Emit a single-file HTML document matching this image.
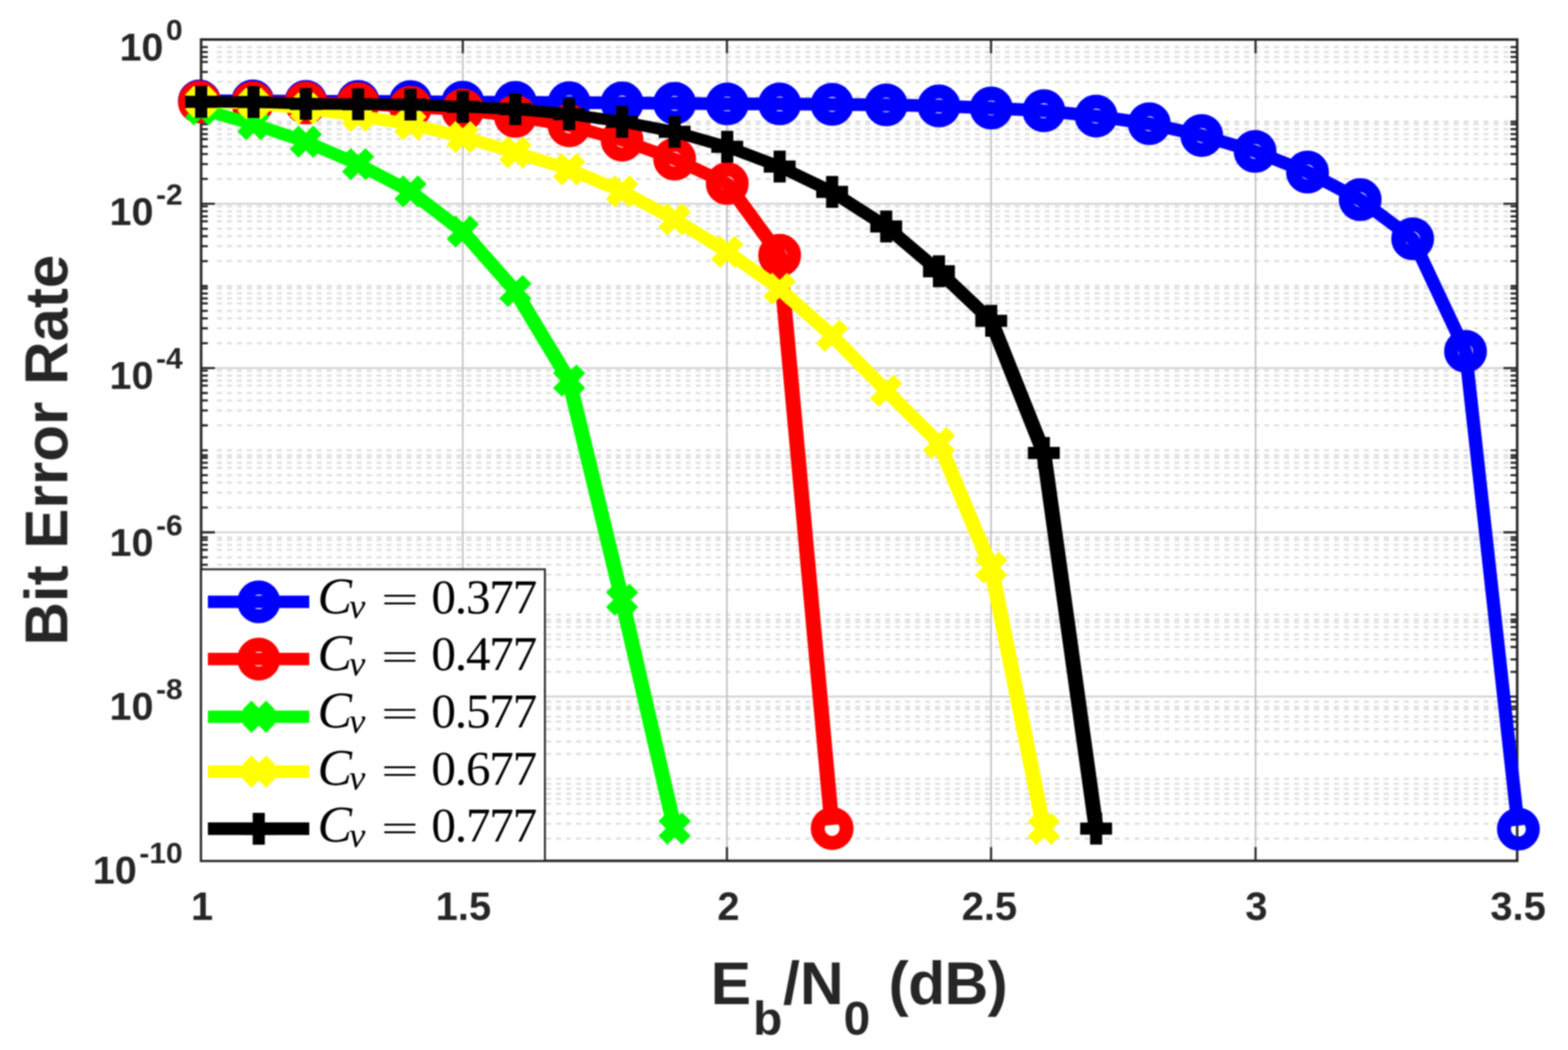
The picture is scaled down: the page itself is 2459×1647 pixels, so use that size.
<!DOCTYPE html>
<html lang="en"><head><meta charset="utf-8"><title>Bit Error Rate vs Eb/N0</title>
<style>html,body{margin:0;padding:0;background:#fff}body{width:2459px;height:1647px;overflow:hidden}svg{display:block}.ax{font-family:"Liberation Sans",Arial,Helvetica,sans-serif;font-weight:bold;fill:#262626}.lg{font-family:"Liberation Serif","Times New Roman",serif;fill:#000}</style></head><body>
<svg width="2459" height="1647" viewBox="0 0 2459 1647" role="img" aria-label="Bit Error Rate versus Eb/N0 (dB) for five values of Cv">
<defs><filter id="b" x="0" y="0" width="100%" height="100%" filterUnits="userSpaceOnUse" color-interpolation-filters="sRGB"><feGaussianBlur stdDeviation="1.2"/></filter></defs>
<rect width="2459" height="1647" fill="#fff"/>
<g filter="url(#b)">
<g stroke="#e1e1e1" stroke-width="3.6" stroke-dasharray="7.8 7.84" fill="none">
<path d="M340.3 73.78H2379.3M340.3 81.59H2379.3M340.3 89.39H2379.3M340.3 97.2H2379.3M340.3 112.82H2379.3M340.3 128.44H2379.3M340.3 151.87H2379.3M340.3 190.91H2379.3M340.3 194.82H2379.3M340.3 202.63H2379.3M340.3 210.43H2379.3M340.3 218.24H2379.3M340.3 229.96H2379.3M340.3 241.67H2379.3M340.3 257.29H2379.3M340.3 280.72H2379.3M340.3 323.67H2379.3M340.3 331.47H2379.3M340.3 339.28H2379.3M340.3 347.09H2379.3M340.3 358.81H2379.3M340.3 370.52H2379.3M340.3 386.14H2379.3M340.3 409.56H2379.3M340.3 448.61H2379.3M340.3 452.51H2379.3M340.3 460.32H2379.3M340.3 468.13H2379.3M340.3 475.94H2379.3M340.3 487.65H2379.3M340.3 499.37H2379.3M340.3 514.99H2379.3M340.3 538.41H2379.3M340.3 581.36H2379.3M340.3 589.17H2379.3M340.3 596.98H2379.3M340.3 604.79H2379.3M340.3 616.5H2379.3M340.3 628.22H2379.3M340.3 643.83H2379.3M340.3 667.26H2379.3M340.3 706.31H2379.3M340.3 714.12H2379.3M340.3 718.02H2379.3M340.3 725.83H2379.3M340.3 733.64H2379.3M340.3 745.35H2379.3M340.3 757.06H2379.3M340.3 772.68H2379.3M340.3 796.11H2379.3M340.3 842.96H2379.3M340.3 846.87H2379.3M340.3 854.68H2379.3M340.3 862.49H2379.3M340.3 874.2H2379.3M340.3 885.91H2379.3M340.3 901.53H2379.3M340.3 924.96H2379.3M340.3 964H2379.3M340.3 971.81H2379.3M340.3 975.72H2379.3M340.3 983.53H2379.3M340.3 995.24H2379.3M340.3 1003.05H2379.3M340.3 1014.76H2379.3M340.3 1034.28H2379.3M340.3 1053.81H2379.3M340.3 1100.66H2379.3M340.3 1108.47H2379.3M340.3 1112.37H2379.3M340.3 1124.09H2379.3M340.3 1131.9H2379.3M340.3 1143.61H2379.3M340.3 1163.13H2379.3M340.3 1182.65H2379.3M340.3 1221.7H2379.3M340.3 1229.51H2379.3M340.3 1237.32H2379.3M340.3 1245.13H2379.3M340.3 1252.94H2379.3M340.3 1260.75H2379.3M340.3 1276.36H2379.3M340.3 1291.98H2379.3M340.3 1315.41H2379.3"/>
</g>
<path d="M315.4 319.66H2379.3M315.4 577.32H2379.3M315.4 834.98H2379.3M315.4 1092.64H2379.3" stroke="#d6d6d6" stroke-width="3.2" fill="none"/>
<path d="M725.8 62V1350.3M1140 62V1350.3M1554.2 62V1350.3M1969 62V1350.3" stroke="#bcbcbc" stroke-width="2.3" fill="none"/>
<path d="M725.8 1350.3v-21.5M725.8 62v21.5M1140 1350.3v-21.5M1140 62v21.5M1554.2 1350.3v-21.5M1554.2 62v21.5M1969 1350.3v-21.5M1969 62v21.5M315.4 319.66h21.5M2379.3 319.66h-21.5M315.4 577.32h21.5M2379.3 577.32h-21.5M315.4 834.98h21.5M2379.3 834.98h-21.5M315.4 1092.64h21.5M2379.3 1092.64h-21.5M315.4 151.87h10.5M2379.3 151.87h-10.5M315.4 128.44h10.5M2379.3 128.44h-10.5M315.4 112.82h10.5M2379.3 112.82h-10.5M315.4 97.2h10.5M2379.3 97.2h-10.5M315.4 89.39h10.5M2379.3 89.39h-10.5M315.4 81.59h10.5M2379.3 81.59h-10.5M315.4 73.78h10.5M2379.3 73.78h-10.5M315.4 190.91h10.5M2379.3 190.91h-10.5M315.4 280.72h10.5M2379.3 280.72h-10.5M315.4 257.29h10.5M2379.3 257.29h-10.5M315.4 241.67h10.5M2379.3 241.67h-10.5M315.4 229.96h10.5M2379.3 229.96h-10.5M315.4 218.24h10.5M2379.3 218.24h-10.5M315.4 210.43h10.5M2379.3 210.43h-10.5M315.4 202.63h10.5M2379.3 202.63h-10.5M315.4 194.82h10.5M2379.3 194.82h-10.5M315.4 409.56h10.5M2379.3 409.56h-10.5M315.4 386.14h10.5M2379.3 386.14h-10.5M315.4 370.52h10.5M2379.3 370.52h-10.5M315.4 358.81h10.5M2379.3 358.81h-10.5M315.4 347.09h10.5M2379.3 347.09h-10.5M315.4 339.28h10.5M2379.3 339.28h-10.5M315.4 331.47h10.5M2379.3 331.47h-10.5M315.4 323.67h10.5M2379.3 323.67h-10.5M315.4 448.61h10.5M2379.3 448.61h-10.5M315.4 538.41h10.5M2379.3 538.41h-10.5M315.4 514.99h10.5M2379.3 514.99h-10.5M315.4 499.37h10.5M2379.3 499.37h-10.5M315.4 487.65h10.5M2379.3 487.65h-10.5M315.4 475.94h10.5M2379.3 475.94h-10.5M315.4 468.13h10.5M2379.3 468.13h-10.5M315.4 460.32h10.5M2379.3 460.32h-10.5M315.4 452.51h10.5M2379.3 452.51h-10.5M315.4 667.26h10.5M2379.3 667.26h-10.5M315.4 643.83h10.5M2379.3 643.83h-10.5M315.4 628.22h10.5M2379.3 628.22h-10.5M315.4 616.5h10.5M2379.3 616.5h-10.5M315.4 604.79h10.5M2379.3 604.79h-10.5M315.4 596.98h10.5M2379.3 596.98h-10.5M315.4 589.17h10.5M2379.3 589.17h-10.5M315.4 581.36h10.5M2379.3 581.36h-10.5M315.4 706.31h10.5M2379.3 706.31h-10.5M315.4 796.11h10.5M2379.3 796.11h-10.5M315.4 772.68h10.5M2379.3 772.68h-10.5M315.4 757.06h10.5M2379.3 757.06h-10.5M315.4 745.35h10.5M2379.3 745.35h-10.5M315.4 733.64h10.5M2379.3 733.64h-10.5M315.4 725.83h10.5M2379.3 725.83h-10.5M315.4 718.02h10.5M2379.3 718.02h-10.5M315.4 714.12h10.5M2379.3 714.12h-10.5M315.4 924.96h10.5M2379.3 924.96h-10.5M315.4 901.53h10.5M2379.3 901.53h-10.5M315.4 885.91h10.5M2379.3 885.91h-10.5M315.4 874.2h10.5M2379.3 874.2h-10.5M315.4 862.49h10.5M2379.3 862.49h-10.5M315.4 854.68h10.5M2379.3 854.68h-10.5M315.4 846.87h10.5M2379.3 846.87h-10.5M315.4 842.96h10.5M2379.3 842.96h-10.5M315.4 964h10.5M2379.3 964h-10.5M315.4 1053.81h10.5M2379.3 1053.81h-10.5M315.4 1034.28h10.5M2379.3 1034.28h-10.5M315.4 1014.76h10.5M2379.3 1014.76h-10.5M315.4 1003.05h10.5M2379.3 1003.05h-10.5M315.4 995.24h10.5M2379.3 995.24h-10.5M315.4 983.53h10.5M2379.3 983.53h-10.5M315.4 975.72h10.5M2379.3 975.72h-10.5M315.4 971.81h10.5M2379.3 971.81h-10.5M315.4 1182.65h10.5M2379.3 1182.65h-10.5M315.4 1163.13h10.5M2379.3 1163.13h-10.5M315.4 1143.61h10.5M2379.3 1143.61h-10.5M315.4 1131.9h10.5M2379.3 1131.9h-10.5M315.4 1124.09h10.5M2379.3 1124.09h-10.5M315.4 1112.37h10.5M2379.3 1112.37h-10.5M315.4 1108.47h10.5M2379.3 1108.47h-10.5M315.4 1100.66h10.5M2379.3 1100.66h-10.5M315.4 1221.7h10.5M2379.3 1221.7h-10.5M315.4 1315.41h10.5M2379.3 1315.41h-10.5M315.4 1291.98h10.5M2379.3 1291.98h-10.5M315.4 1276.36h10.5M2379.3 1276.36h-10.5M315.4 1260.75h10.5M2379.3 1260.75h-10.5M315.4 1252.94h10.5M2379.3 1252.94h-10.5M315.4 1245.13h10.5M2379.3 1245.13h-10.5M315.4 1237.32h10.5M2379.3 1237.32h-10.5M315.4 1229.51h10.5M2379.3 1229.51h-10.5" stroke="#262626" stroke-width="3.3" fill="none"/>
<rect x="315.4" y="62" width="2063.9" height="1288.3" fill="none" stroke="#262626" stroke-width="4"/>
<g fill="none" stroke="#0000ff">
<path d="M315.5 158.3L397.6 158.3" stroke-width="20"/>
<path d="M397.6 158.3L479.7 159" stroke-width="20"/>
<path d="M479.7 159L561.7 159" stroke-width="20"/>
<path d="M561.7 159L643.8 159.3" stroke-width="20"/>
<path d="M643.8 159.3L725.8 160.3" stroke-width="20"/>
<path d="M725.8 160.3L808.2 160.5" stroke-width="20"/>
<path d="M808.2 160.5L892.6 161" stroke-width="20"/>
<path d="M892.6 161L975.6 161.4" stroke-width="20"/>
<path d="M975.6 161.4L1058 162" stroke-width="20"/>
<path d="M1058 162L1140.5 163" stroke-width="20"/>
<path d="M1140.5 163L1222.7 163" stroke-width="20"/>
<path d="M1222.7 163L1305 163.7" stroke-width="20"/>
<path d="M1305 163.7L1389.8 164.5" stroke-width="20"/>
<path d="M1389.8 164.5L1472.5 166.2" stroke-width="20"/>
<path d="M1472.5 166.2L1554.5 169.4" stroke-width="20"/>
<path d="M1554.5 169.4L1637 173.7" stroke-width="20"/>
<path d="M1637 173.7L1719 182.1" stroke-width="20.01"/>
<path d="M1719 182.1L1802.4 194" stroke-width="20.02"/>
<path d="M1802.4 194L1884.6 212.6" stroke-width="20.04"/>
<path d="M1884.6 212.6L1968.3 237.5" stroke-width="20.07"/>
<path d="M1968.3 237.5L2050.5 269.9" stroke-width="20.11"/>
<path d="M2050.5 269.9L2133.1 313.2" stroke-width="20.17"/>
<path d="M2133.1 313.2L2215.4 374.6" stroke-width="20.29"/>
<path d="M2215.4 374.6L2298.3 551" stroke-width="20.66"/>
<path d="M2298.3 551L2380.6 1295.03" stroke-width="20.79"/>
<circle cx="397.6" cy="158.3" r="10" fill="#0000ff" stroke="none"/>
<circle cx="479.7" cy="159" r="10" fill="#0000ff" stroke="none"/>
<circle cx="561.7" cy="159" r="10" fill="#0000ff" stroke="none"/>
<circle cx="643.8" cy="159.3" r="10" fill="#0000ff" stroke="none"/>
<circle cx="725.8" cy="160.3" r="10" fill="#0000ff" stroke="none"/>
<circle cx="808.2" cy="160.5" r="10" fill="#0000ff" stroke="none"/>
<circle cx="892.6" cy="161" r="10" fill="#0000ff" stroke="none"/>
<circle cx="975.6" cy="161.4" r="10" fill="#0000ff" stroke="none"/>
<circle cx="1058" cy="162" r="10" fill="#0000ff" stroke="none"/>
<circle cx="1140.5" cy="163" r="10" fill="#0000ff" stroke="none"/>
<circle cx="1222.7" cy="163" r="10" fill="#0000ff" stroke="none"/>
<circle cx="1305" cy="163.7" r="10" fill="#0000ff" stroke="none"/>
<circle cx="1389.8" cy="164.5" r="10" fill="#0000ff" stroke="none"/>
<circle cx="1472.5" cy="166.2" r="10" fill="#0000ff" stroke="none"/>
<circle cx="1554.5" cy="169.4" r="10" fill="#0000ff" stroke="none"/>
<circle cx="1637" cy="173.7" r="10" fill="#0000ff" stroke="none"/>
<circle cx="1719" cy="182.1" r="10" fill="#0000ff" stroke="none"/>
<circle cx="1802.4" cy="194" r="10.01" fill="#0000ff" stroke="none"/>
<circle cx="1884.6" cy="212.6" r="10.02" fill="#0000ff" stroke="none"/>
<circle cx="1968.3" cy="237.5" r="10.03" fill="#0000ff" stroke="none"/>
<circle cx="2050.5" cy="269.9" r="10.05" fill="#0000ff" stroke="none"/>
<circle cx="2133.1" cy="313.2" r="10.09" fill="#0000ff" stroke="none"/>
<circle cx="2215.4" cy="374.6" r="10.14" fill="#0000ff" stroke="none"/>
<circle cx="2298.3" cy="551" r="10.33" fill="#0000ff" stroke="none"/>
<circle cx="312.7" cy="158.3" r="22.6" fill="none" stroke="#0000ff" stroke-width="22"/>
<circle cx="396.3" cy="158.3" r="22.6" fill="none" stroke="#0000ff" stroke-width="22"/>
<circle cx="479.7" cy="159" r="22.6" fill="none" stroke="#0000ff" stroke-width="22"/>
<circle cx="561.7" cy="159" r="22.6" fill="none" stroke="#0000ff" stroke-width="22"/>
<circle cx="643.8" cy="159.3" r="22.6" fill="none" stroke="#0000ff" stroke-width="22"/>
<circle cx="725.8" cy="160.3" r="22.6" fill="none" stroke="#0000ff" stroke-width="22"/>
<circle cx="808.2" cy="160.5" r="22.6" fill="none" stroke="#0000ff" stroke-width="22"/>
<circle cx="892.6" cy="161" r="22.6" fill="none" stroke="#0000ff" stroke-width="22"/>
<circle cx="975.6" cy="161.4" r="22.6" fill="none" stroke="#0000ff" stroke-width="22"/>
<circle cx="1058" cy="162" r="22.6" fill="none" stroke="#0000ff" stroke-width="22"/>
<circle cx="1140.5" cy="163" r="22.6" fill="none" stroke="#0000ff" stroke-width="22"/>
<circle cx="1222.7" cy="163" r="22.6" fill="none" stroke="#0000ff" stroke-width="22"/>
<circle cx="1305" cy="163.7" r="22.6" fill="none" stroke="#0000ff" stroke-width="22"/>
<circle cx="1389.8" cy="164.5" r="22.6" fill="none" stroke="#0000ff" stroke-width="22"/>
<circle cx="1472.5" cy="166.2" r="22.6" fill="none" stroke="#0000ff" stroke-width="22"/>
<circle cx="1554.5" cy="169.4" r="22.6" fill="none" stroke="#0000ff" stroke-width="22"/>
<circle cx="1637" cy="173.7" r="22.6" fill="none" stroke="#0000ff" stroke-width="22"/>
<circle cx="1719" cy="182.1" r="22.6" fill="none" stroke="#0000ff" stroke-width="22"/>
<circle cx="1802.4" cy="194" r="22.6" fill="none" stroke="#0000ff" stroke-width="22"/>
<circle cx="1884.6" cy="212.6" r="22.6" fill="none" stroke="#0000ff" stroke-width="22"/>
<circle cx="1968.3" cy="237.5" r="22.6" fill="none" stroke="#0000ff" stroke-width="22"/>
<circle cx="2050.5" cy="269.9" r="22.6" fill="none" stroke="#0000ff" stroke-width="22"/>
<circle cx="2133.1" cy="313.2" r="22.6" fill="none" stroke="#0000ff" stroke-width="22"/>
<circle cx="2215.4" cy="374.6" r="22.6" fill="none" stroke="#0000ff" stroke-width="22"/>
<circle cx="2298.3" cy="551" r="22.6" fill="none" stroke="#0000ff" stroke-width="22"/>
<circle cx="2381.2" cy="1300.5" r="22.6" fill="none" stroke="#0000ff" stroke-width="22"/>
</g>
<g fill="none" stroke="#ff0000">
<path d="M315.5 160L397.6 161" stroke-width="19"/>
<path d="M397.6 161L479.7 161.4" stroke-width="19"/>
<path d="M479.7 161.4L561.7 162.6" stroke-width="19"/>
<path d="M561.7 162.6L643.8 168" stroke-width="19.02"/>
<path d="M643.8 168L725.8 172.5" stroke-width="19.01"/>
<path d="M725.8 172.5L808.2 182.5" stroke-width="19.07"/>
<path d="M808.2 182.5L892.6 197.2" stroke-width="19.13"/>
<path d="M892.6 197.2L975.6 219.8" stroke-width="19.31"/>
<path d="M975.6 219.8L1058 249.6" stroke-width="19.52"/>
<path d="M1058 249.6L1140.5 288" stroke-width="19.8"/>
<path d="M1140.5 288L1222.7 400.4" stroke-width="21.93"/>
<path d="M1222.7 400.4L1304.5 1294.12" stroke-width="23.46"/>
<circle cx="397.6" cy="161" r="9.5" fill="#ff0000" stroke="none"/>
<circle cx="479.7" cy="161.4" r="9.5" fill="#ff0000" stroke="none"/>
<circle cx="561.7" cy="162.6" r="9.5" fill="#ff0000" stroke="none"/>
<circle cx="643.8" cy="168" r="9.51" fill="#ff0000" stroke="none"/>
<circle cx="725.8" cy="172.5" r="9.51" fill="#ff0000" stroke="none"/>
<circle cx="808.2" cy="182.5" r="9.53" fill="#ff0000" stroke="none"/>
<circle cx="892.6" cy="197.2" r="9.57" fill="#ff0000" stroke="none"/>
<circle cx="975.6" cy="219.8" r="9.66" fill="#ff0000" stroke="none"/>
<circle cx="1058" cy="249.6" r="9.76" fill="#ff0000" stroke="none"/>
<circle cx="1140.5" cy="288" r="9.9" fill="#ff0000" stroke="none"/>
<circle cx="1222.7" cy="400.4" r="10.97" fill="#ff0000" stroke="none"/>
<circle cx="312.7" cy="160" r="22.6" fill="none" stroke="#ff0000" stroke-width="22"/>
<circle cx="396.3" cy="161" r="22.6" fill="none" stroke="#ff0000" stroke-width="22"/>
<circle cx="479.7" cy="161.4" r="22.6" fill="none" stroke="#ff0000" stroke-width="22"/>
<circle cx="561.7" cy="162.6" r="22.6" fill="none" stroke="#ff0000" stroke-width="22"/>
<circle cx="643.8" cy="168" r="22.6" fill="none" stroke="#ff0000" stroke-width="22"/>
<circle cx="725.8" cy="172.5" r="22.6" fill="none" stroke="#ff0000" stroke-width="22"/>
<circle cx="808.2" cy="182.5" r="22.6" fill="none" stroke="#ff0000" stroke-width="22"/>
<circle cx="892.6" cy="197.2" r="22.6" fill="none" stroke="#ff0000" stroke-width="22"/>
<circle cx="975.6" cy="219.8" r="22.6" fill="none" stroke="#ff0000" stroke-width="22"/>
<circle cx="1058" cy="249.6" r="22.6" fill="none" stroke="#ff0000" stroke-width="22"/>
<circle cx="1140.5" cy="288" r="22.6" fill="none" stroke="#ff0000" stroke-width="22"/>
<circle cx="1222.7" cy="400.4" r="22.6" fill="none" stroke="#ff0000" stroke-width="22"/>
<circle cx="1305" cy="1299.6" r="22.6" fill="none" stroke="#ff0000" stroke-width="22"/>
</g>
<g fill="none" stroke="#00ff00">
<path d="M315.5 171.5L397.6 194.7" stroke-width="19.33"/>
<path d="M397.6 194.7L479.7 222.3" stroke-width="19.46"/>
<path d="M479.7 222.3L561.7 257.5" stroke-width="19.7"/>
<path d="M561.7 257.5L643.8 300.3" stroke-width="19.96"/>
<path d="M643.8 300.3L725.8 363.2" stroke-width="20.67"/>
<path d="M725.8 363.2L808.2 456.6" stroke-width="21.53"/>
<path d="M808.2 456.6L892.6 597" stroke-width="22.31"/>
<path d="M892.6 597L975.6 940.8" stroke-width="23.25"/>
<path d="M975.6 940.8L1058 1299.6" stroke-width="23.27"/>
<circle cx="397.6" cy="194.7" r="9.67" fill="#00ff00" stroke="none"/>
<circle cx="479.7" cy="222.3" r="9.73" fill="#00ff00" stroke="none"/>
<circle cx="561.7" cy="257.5" r="9.85" fill="#00ff00" stroke="none"/>
<circle cx="643.8" cy="300.3" r="9.98" fill="#00ff00" stroke="none"/>
<circle cx="725.8" cy="363.2" r="10.33" fill="#00ff00" stroke="none"/>
<circle cx="808.2" cy="456.6" r="10.77" fill="#00ff00" stroke="none"/>
<circle cx="892.6" cy="597" r="11.15" fill="#00ff00" stroke="none"/>
<circle cx="975.6" cy="940.8" r="11.63" fill="#00ff00" stroke="none"/>
<path d="M297.12 153.12L333.88 189.88M297.12 189.88L333.88 153.12" fill="none" stroke="#00ff00" stroke-width="19.5"/>
<path d="M379.22 176.32L415.98 213.08M379.22 213.08L415.98 176.32" fill="none" stroke="#00ff00" stroke-width="19.5"/>
<path d="M461.32 203.92L498.08 240.68M461.32 240.68L498.08 203.92" fill="none" stroke="#00ff00" stroke-width="19.5"/>
<path d="M543.32 239.12L580.08 275.88M543.32 275.88L580.08 239.12" fill="none" stroke="#00ff00" stroke-width="19.5"/>
<path d="M625.42 281.92L662.18 318.68M625.42 318.68L662.18 281.92" fill="none" stroke="#00ff00" stroke-width="19.5"/>
<path d="M707.42 344.82L744.18 381.58M707.42 381.58L744.18 344.82" fill="none" stroke="#00ff00" stroke-width="19.5"/>
<path d="M789.82 438.22L826.58 474.98M789.82 474.98L826.58 438.22" fill="none" stroke="#00ff00" stroke-width="19.5"/>
<path d="M874.22 578.62L910.98 615.38M874.22 615.38L910.98 578.62" fill="none" stroke="#00ff00" stroke-width="19.5"/>
<path d="M957.22 922.42L993.98 959.18M957.22 959.18L993.98 922.42" fill="none" stroke="#00ff00" stroke-width="19.5"/>
<path d="M1039.62 1281.22L1076.38 1317.98M1039.62 1317.98L1076.38 1281.22" fill="none" stroke="#00ff00" stroke-width="19.5"/>
</g>
<g fill="none" stroke="#ffff00">
<path d="M315.5 159.8L397.6 162.6" stroke-width="19.01"/>
<path d="M397.6 162.6L479.7 170" stroke-width="19.04"/>
<path d="M479.7 170L561.7 181.8" stroke-width="19.09"/>
<path d="M561.7 181.8L643.8 194.7" stroke-width="19.11"/>
<path d="M643.8 194.7L725.8 215" stroke-width="19.26"/>
<path d="M725.8 215L808.2 238.9" stroke-width="19.35"/>
<path d="M808.2 238.9L892.6 265.6" stroke-width="19.41"/>
<path d="M892.6 265.6L975.6 300.2" stroke-width="19.67"/>
<path d="M975.6 300.2L1058 344" stroke-width="19.99"/>
<path d="M1058 344L1140.5 394.9" stroke-width="20.24"/>
<path d="M1140.5 394.9L1222.7 453.1" stroke-width="20.5"/>
<path d="M1222.7 453.1L1305 526.8" stroke-width="21"/>
<path d="M1305 526.8L1389.8 612.9" stroke-width="21.28"/>
<path d="M1389.8 612.9L1472.5 694.7" stroke-width="21.23"/>
<path d="M1472.5 694.7L1554.5 890.3" stroke-width="22.83"/>
<path d="M1554.5 890.3L1637 1300" stroke-width="23.32"/>
<circle cx="397.6" cy="162.6" r="9.5" fill="#ffff00" stroke="none"/>
<circle cx="479.7" cy="170" r="9.52" fill="#ffff00" stroke="none"/>
<circle cx="561.7" cy="181.8" r="9.55" fill="#ffff00" stroke="none"/>
<circle cx="643.8" cy="194.7" r="9.55" fill="#ffff00" stroke="none"/>
<circle cx="725.8" cy="215" r="9.63" fill="#ffff00" stroke="none"/>
<circle cx="808.2" cy="238.9" r="9.67" fill="#ffff00" stroke="none"/>
<circle cx="892.6" cy="265.6" r="9.7" fill="#ffff00" stroke="none"/>
<circle cx="975.6" cy="300.2" r="9.83" fill="#ffff00" stroke="none"/>
<circle cx="1058" cy="344" r="10" fill="#ffff00" stroke="none"/>
<circle cx="1140.5" cy="394.9" r="10.12" fill="#ffff00" stroke="none"/>
<circle cx="1222.7" cy="453.1" r="10.25" fill="#ffff00" stroke="none"/>
<circle cx="1305" cy="526.8" r="10.5" fill="#ffff00" stroke="none"/>
<circle cx="1389.8" cy="612.9" r="10.61" fill="#ffff00" stroke="none"/>
<circle cx="1472.5" cy="694.7" r="10.61" fill="#ffff00" stroke="none"/>
<circle cx="1554.5" cy="890.3" r="11.41" fill="#ffff00" stroke="none"/>
<path d="M297.12 141.42L333.88 178.18M297.12 178.18L333.88 141.42" fill="none" stroke="#ffff00" stroke-width="19.5"/>
<path d="M379.22 144.22L415.98 180.98M379.22 180.98L415.98 144.22" fill="none" stroke="#ffff00" stroke-width="19.5"/>
<path d="M461.32 151.62L498.08 188.38M461.32 188.38L498.08 151.62" fill="none" stroke="#ffff00" stroke-width="19.5"/>
<path d="M543.32 163.42L580.08 200.18M543.32 200.18L580.08 163.42" fill="none" stroke="#ffff00" stroke-width="19.5"/>
<path d="M625.42 176.32L662.18 213.08M625.42 213.08L662.18 176.32" fill="none" stroke="#ffff00" stroke-width="19.5"/>
<path d="M707.42 196.62L744.18 233.38M707.42 233.38L744.18 196.62" fill="none" stroke="#ffff00" stroke-width="19.5"/>
<path d="M789.82 220.52L826.58 257.28M789.82 257.28L826.58 220.52" fill="none" stroke="#ffff00" stroke-width="19.5"/>
<path d="M874.22 247.22L910.98 283.98M874.22 283.98L910.98 247.22" fill="none" stroke="#ffff00" stroke-width="19.5"/>
<path d="M957.22 281.82L993.98 318.58M957.22 318.58L993.98 281.82" fill="none" stroke="#ffff00" stroke-width="19.5"/>
<path d="M1039.62 325.62L1076.38 362.38M1039.62 362.38L1076.38 325.62" fill="none" stroke="#ffff00" stroke-width="19.5"/>
<path d="M1122.12 376.52L1158.88 413.28M1122.12 413.28L1158.88 376.52" fill="none" stroke="#ffff00" stroke-width="19.5"/>
<path d="M1204.32 434.72L1241.08 471.48M1204.32 471.48L1241.08 434.72" fill="none" stroke="#ffff00" stroke-width="19.5"/>
<path d="M1286.62 508.42L1323.38 545.18M1286.62 545.18L1323.38 508.42" fill="none" stroke="#ffff00" stroke-width="19.5"/>
<path d="M1371.42 594.52L1408.18 631.28M1371.42 631.28L1408.18 594.52" fill="none" stroke="#ffff00" stroke-width="19.5"/>
<path d="M1454.12 676.32L1490.88 713.08M1454.12 713.08L1490.88 676.32" fill="none" stroke="#ffff00" stroke-width="19.5"/>
<path d="M1536.12 871.92L1572.88 908.68M1536.12 908.68L1572.88 871.92" fill="none" stroke="#ffff00" stroke-width="19.5"/>
<path d="M1618.62 1281.62L1655.38 1318.38M1618.62 1318.38L1655.38 1281.62" fill="none" stroke="#ffff00" stroke-width="19.5"/>
</g>
<g fill="none" stroke="#000000">
<path d="M315.5 159.7L397.6 160" stroke-width="18"/>
<path d="M397.6 160L479.7 163" stroke-width="18.01"/>
<path d="M479.7 163L561.7 163.5" stroke-width="18"/>
<path d="M561.7 163.5L643.8 164.1" stroke-width="18"/>
<path d="M643.8 164.1L725.8 167.4" stroke-width="18.01"/>
<path d="M725.8 167.4L808.2 171.3" stroke-width="18.01"/>
<path d="M808.2 171.3L892.6 179.1" stroke-width="18.05"/>
<path d="M892.6 179.1L975.6 190.9" stroke-width="18.11"/>
<path d="M975.6 190.9L1058 206.8" stroke-width="18.2"/>
<path d="M1058 206.8L1140.5 230.3" stroke-width="18.41"/>
<path d="M1140.5 230.3L1222.7 261.3" stroke-width="18.68"/>
<path d="M1222.7 261.3L1305 300.9" stroke-width="19.03"/>
<path d="M1305 300.9L1389.8 355.3" stroke-width="19.6"/>
<path d="M1389.8 355.3L1472.5 425.5" stroke-width="20.3"/>
<path d="M1472.5 425.5L1554.5 503.3" stroke-width="20.61"/>
<path d="M1554.5 503.3L1637 710.5" stroke-width="22.75"/>
<path d="M1637 710.5L1719 1299.8" stroke-width="23.4"/>
<circle cx="397.6" cy="160" r="9" fill="#000000" stroke="none"/>
<circle cx="479.7" cy="163" r="9" fill="#000000" stroke="none"/>
<circle cx="561.7" cy="163.5" r="9" fill="#000000" stroke="none"/>
<circle cx="643.8" cy="164.1" r="9" fill="#000000" stroke="none"/>
<circle cx="725.8" cy="167.4" r="9" fill="#000000" stroke="none"/>
<circle cx="808.2" cy="171.3" r="9.01" fill="#000000" stroke="none"/>
<circle cx="892.6" cy="179.1" r="9.02" fill="#000000" stroke="none"/>
<circle cx="975.6" cy="190.9" r="9.05" fill="#000000" stroke="none"/>
<circle cx="1058" cy="206.8" r="9.1" fill="#000000" stroke="none"/>
<circle cx="1140.5" cy="230.3" r="9.21" fill="#000000" stroke="none"/>
<circle cx="1222.7" cy="261.3" r="9.34" fill="#000000" stroke="none"/>
<circle cx="1305" cy="300.9" r="9.52" fill="#000000" stroke="none"/>
<circle cx="1389.8" cy="355.3" r="9.8" fill="#000000" stroke="none"/>
<circle cx="1472.5" cy="425.5" r="10.15" fill="#000000" stroke="none"/>
<circle cx="1554.5" cy="503.3" r="10.3" fill="#000000" stroke="none"/>
<circle cx="1637" cy="710.5" r="11.37" fill="#000000" stroke="none"/>
<path d="M290.5 159.7H340.5M315.5 134.7V184.7" fill="none" stroke="#000000" stroke-width="19"/>
<path d="M372.6 160H422.6M397.6 135V185" fill="none" stroke="#000000" stroke-width="19"/>
<path d="M454.7 163H504.7M479.7 138V188" fill="none" stroke="#000000" stroke-width="19"/>
<path d="M536.7 163.5H586.7M561.7 138.5V188.5" fill="none" stroke="#000000" stroke-width="19"/>
<path d="M618.8 164.1H668.8M643.8 139.1V189.1" fill="none" stroke="#000000" stroke-width="19"/>
<path d="M700.8 167.4H750.8M725.8 142.4V192.4" fill="none" stroke="#000000" stroke-width="19"/>
<path d="M783.2 171.3H833.2M808.2 146.3V196.3" fill="none" stroke="#000000" stroke-width="19"/>
<path d="M867.6 179.1H917.6M892.6 154.1V204.1" fill="none" stroke="#000000" stroke-width="19"/>
<path d="M950.6 190.9H1000.6M975.6 165.9V215.9" fill="none" stroke="#000000" stroke-width="19"/>
<path d="M1033 206.8H1083M1058 181.8V231.8" fill="none" stroke="#000000" stroke-width="19"/>
<path d="M1115.5 230.3H1165.5M1140.5 205.3V255.3" fill="none" stroke="#000000" stroke-width="19"/>
<path d="M1197.7 261.3H1247.7M1222.7 236.3V286.3" fill="none" stroke="#000000" stroke-width="19"/>
<path d="M1280 300.9H1330M1305 275.9V325.9" fill="none" stroke="#000000" stroke-width="19"/>
<path d="M1364.8 355.3H1414.8M1389.8 330.3V380.3" fill="none" stroke="#000000" stroke-width="19"/>
<path d="M1447.5 425.5H1497.5M1472.5 400.5V450.5" fill="none" stroke="#000000" stroke-width="19"/>
<path d="M1529.5 503.3H1579.5M1554.5 478.3V528.3" fill="none" stroke="#000000" stroke-width="19"/>
<path d="M1612 710.5H1662M1637 685.5V735.5" fill="none" stroke="#000000" stroke-width="19"/>
<path d="M1694 1299.8H1744M1719 1274.8V1324.8" fill="none" stroke="#000000" stroke-width="19"/>
</g>
<rect x="315.4" y="893" width="539.2" height="457.3" fill="#fff" stroke="#262626" stroke-width="3"/>
<path d="M326 944H485" stroke="#0000ff" stroke-width="19.6" fill="none"/>
<circle cx="405.8" cy="944" r="22.6" fill="none" stroke="#0000ff" stroke-width="22"/>
<text class="lg" y="961.6" font-size="77"><tspan x="498" font-style="italic" font-size="81">C</tspan><tspan x="547.5" dy="7.5" font-style="italic" font-size="54" textLength="25.5" lengthAdjust="spacingAndGlyphs">v</tspan><tspan x="676.5" dy="-7.5" textLength="166" lengthAdjust="spacing">0.377</tspan></text>
<text class="lg" transform="translate(597.5 959.8) scale(1.54 0.86)" font-size="68">=</text>
<path d="M326 1033.8H485" stroke="#ff0000" stroke-width="19.6" fill="none"/>
<circle cx="405.8" cy="1033.8" r="22.6" fill="none" stroke="#ff0000" stroke-width="22"/>
<text class="lg" y="1051.3" font-size="77"><tspan x="498" font-style="italic" font-size="81">C</tspan><tspan x="547.5" dy="7.5" font-style="italic" font-size="54" textLength="25.5" lengthAdjust="spacingAndGlyphs">v</tspan><tspan x="676.5" dy="-7.5" textLength="166" lengthAdjust="spacing">0.477</tspan></text>
<text class="lg" transform="translate(597.5 1049.5) scale(1.54 0.86)" font-size="68">=</text>
<path d="M326 1124.3H485" stroke="#00ff00" stroke-width="19.6" fill="none"/>
<path d="M387.42 1105.92L424.18 1142.68M387.42 1142.68L424.18 1105.92" fill="none" stroke="#00ff00" stroke-width="19.5"/>
<text class="lg" y="1141" font-size="77"><tspan x="498" font-style="italic" font-size="81">C</tspan><tspan x="547.5" dy="7.5" font-style="italic" font-size="54" textLength="25.5" lengthAdjust="spacingAndGlyphs">v</tspan><tspan x="676.5" dy="-7.5" textLength="166" lengthAdjust="spacing">0.577</tspan></text>
<text class="lg" transform="translate(597.5 1139.2) scale(1.54 0.86)" font-size="68">=</text>
<path d="M326 1210.3H485" stroke="#ffff00" stroke-width="19.6" fill="none"/>
<path d="M387.42 1191.92L424.18 1228.68M387.42 1228.68L424.18 1191.92" fill="none" stroke="#ffff00" stroke-width="19.5"/>
<text class="lg" y="1230.7" font-size="77"><tspan x="498" font-style="italic" font-size="81">C</tspan><tspan x="547.5" dy="7.5" font-style="italic" font-size="54" textLength="25.5" lengthAdjust="spacingAndGlyphs">v</tspan><tspan x="676.5" dy="-7.5" textLength="166" lengthAdjust="spacing">0.677</tspan></text>
<text class="lg" transform="translate(597.5 1228.9) scale(1.54 0.86)" font-size="68">=</text>
<path d="M326 1299.9H485" stroke="#000000" stroke-width="19.6" fill="none"/>
<path d="M380.8 1299.9H430.8M405.8 1274.9V1324.9" fill="none" stroke="#000000" stroke-width="19"/>
<text class="lg" y="1320.4" font-size="77"><tspan x="498" font-style="italic" font-size="81">C</tspan><tspan x="547.5" dy="7.5" font-style="italic" font-size="54" textLength="25.5" lengthAdjust="spacingAndGlyphs">v</tspan><tspan x="676.5" dy="-7.5" textLength="166" lengthAdjust="spacing">0.777</tspan></text>
<text class="lg" transform="translate(597.5 1318.6) scale(1.54 0.86)" font-size="68">=</text>
<text class="ax" x="286.5" y="94.8" font-size="62" text-anchor="end">10<tspan dx="4" dy="-32" font-size="47">0</tspan></text>
<text class="ax" x="286.5" y="352.6" font-size="62" text-anchor="end">10<tspan dx="4" dy="-32" font-size="47">-2</tspan></text>
<text class="ax" x="286.5" y="609.8" font-size="62" text-anchor="end">10<tspan dx="4" dy="-32" font-size="47">-4</tspan></text>
<text class="ax" x="286.5" y="871.6" font-size="62" text-anchor="end">10<tspan dx="4" dy="-32" font-size="47">-6</tspan></text>
<text class="ax" x="286.5" y="1128.6" font-size="62" text-anchor="end">10<tspan dx="4" dy="-32" font-size="47">-8</tspan></text>
<text class="ax" x="286.5" y="1386.2" font-size="62" text-anchor="end">10<tspan dx="4" dy="-32" font-size="47">-10</tspan></text>
<text class="ax" x="316.9" y="1442.5" font-size="62.5" text-anchor="middle">1</text>
<text class="ax" x="726.8" y="1442.5" font-size="62.5" text-anchor="middle">1.5</text>
<text class="ax" x="1142.5" y="1442.5" font-size="62.5" text-anchor="middle">2</text>
<text class="ax" x="1551.7" y="1442.5" font-size="62.5" text-anchor="middle">2.5</text>
<text class="ax" x="1970.5" y="1442.5" font-size="62.5" text-anchor="middle">3</text>
<text class="ax" x="2380.8" y="1442.5" font-size="62.5" text-anchor="middle">3.5</text>
<text class="ax" y="1575" font-size="95"><tspan x="1114.5">E</tspan><tspan x="1181" dy="47.5" font-size="75">b</tspan><tspan x="1228" dy="-47.5">/N</tspan><tspan x="1323" dy="47.5" font-size="75">0</tspan><tspan x="1393.5" dy="-47.5" letter-spacing="-1">(dB)</tspan></text>
<text class="ax" transform="translate(105.5 706) rotate(-90)" font-size="94.3" text-anchor="middle">Bit Error Rate</text>
</g>
</svg></body></html>
